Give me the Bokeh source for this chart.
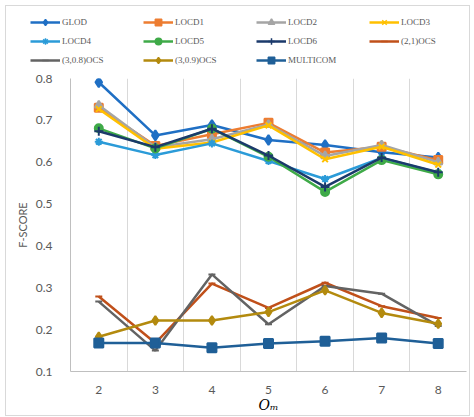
from bokeh.plotting import figure
from bokeh.models import FixedTicker, Range1d, Legend
from bokeh.layouts import column
from bokeh.embed import file_html
from bokeh.resources import INLINE

om = [2, 3, 4, 5, 6, 7, 8]
y_ticks = [0.1, 0.2, 0.3, 0.4, 0.5, 0.6, 0.7, 0.8]

glod = [0.791, 0.664, 0.689, 0.653, 0.641, 0.624, 0.611]
locd1 = [0.730, 0.639, 0.667, 0.694, 0.623, 0.637, 0.605]
locd2 = [0.736, 0.636, 0.655, 0.690, 0.615, 0.641, 0.600]
locd3 = [0.727, 0.632, 0.647, 0.688, 0.607, 0.637, 0.594]
locd4 = [0.649, 0.617, 0.645, 0.603, 0.560, 0.610, 0.575]
locd5 = [0.681, 0.633, 0.680, 0.613, 0.529, 0.605, 0.571]
locd6 = [0.674, 0.636, 0.680, 0.616, 0.541, 0.611, 0.576]
ocs_21 = [0.279, 0.168, 0.310, 0.252, 0.312, 0.256, 0.228]
ocs_308 = [0.267, 0.150, 0.332, 0.213, 0.304, 0.286, 0.209]
ocs_309 = [0.183, 0.222, 0.222, 0.242, 0.294, 0.240, 0.214]
multicom = [0.168, 0.168, 0.157, 0.167, 0.172, 0.180, 0.167]

series = [
    ("GLOD", glod, "#1F6FC4", "diamond", 10),
    ("LOCD1", locd1, "#ED7D31", "square", 8),
    ("LOCD2", locd2, "#A5A5A5", "triangle", 8),
    ("LOCD3", locd3, "#FFC000", "x", 8),
    ("LOCD4", locd4, "#2B9BD8", "asterisk", 8),
    ("LOCD5", locd5, "#3FAA48", "circle", 8),
    ("LOCD6", locd6, "#1B3A6B", "cross", 9),
    ("(2,1)OCS", ocs_21, "#C0501A", "dash", 7),
    ("(3,0.8)OCS", ocs_308, "#636363", "dash", 7),
    ("(3,0.9)OCS", ocs_309, "#B38A0E", "diamond", 9),
    ("MULTICOM", multicom, "#1F5F97", "square", 9),
]

# legend strip (its data lies outside its ranges, only the legend shows)
leg = figure(width=463, height=64, output_backend="svg", toolbar_location=None,
             x_range=Range1d(-10, -9), y_range=Range1d(-10, -9),
             x_axis_location=None, y_axis_location=None,
             min_border_left=0, min_border_right=0,
             min_border_top=0, min_border_bottom=0)
leg.grid.visible = False
leg.outline_line_color = None
leg.frame_align = False

# main chart
p = figure(width=463, height=345, output_backend="svg", toolbar_location=None,
           x_range=Range1d(1.5, 8.5), y_range=Range1d(0.1, 0.8),
           min_border_left=64, min_border_right=3, min_border_top=8, min_border_bottom=42)
p.outline_line_color = None
p.background_fill_color = "white"
p.frame_align = False

items = []
for name, vals, col, mk, sz in series:
    p.line(om, vals, line_color=col, line_width=2.5)
    p.scatter(om, vals, marker=mk, size=sz, fill_color=col, line_color=col, line_width=2)
    ll = leg.line(om, vals, line_color=col, line_width=2.5)
    ls = leg.scatter(om, vals, marker=mk, size=sz, fill_color=col, line_color=col, line_width=1.5)
    items.append((name, [ll, ls]))

legend = Legend(items=items, orientation="horizontal", ncols=4, location=(24, 2),
                glyph_width=30, glyph_height=16, label_width=78, label_standoff=2,
                spacing=3, padding=0, margin=0,
                label_text_font="Liberation Serif", label_text_font_size="9px",
                label_text_color="#595959", border_line_color=None,
                background_fill_alpha=0)
leg.add_layout(legend, "center")

p.xaxis.ticker = FixedTicker(ticks=om)
p.yaxis.ticker = FixedTicker(ticks=y_ticks)
p.xgrid.ticker = FixedTicker(ticks=[2.5, 3.5, 4.5, 5.5, 6.5, 7.5, 8.5])
p.xgrid.grid_line_color = "#d9d9d9"
p.ygrid.grid_line_color = None

for ax in (p.xaxis, p.yaxis):
    ax.axis_line_color = "#bfbfbf"
    ax.major_tick_line_color = None
    ax.minor_tick_line_color = None
    ax.major_label_text_font = "Lato"
    ax.major_label_text_font_size = "12px"
    ax.major_label_text_color = "#595959"

p.xaxis.major_label_standoff = 8
p.xaxis.axis_label = "Oₘ"
p.xaxis.axis_label_text_font = "DejaVu Serif"
p.xaxis.axis_label_text_font_style = "italic"
p.xaxis.axis_label_text_font_size = "14px"
p.xaxis.axis_label_text_color = "#000000"
p.xaxis.axis_label_standoff = 0

p.yaxis.major_label_standoff = 12
p.yaxis.axis_label = "F-SCORE"
p.yaxis.axis_label_text_font = "Lato"
p.yaxis.axis_label_text_font_style = "normal"
p.yaxis.axis_label_text_font_size = "11px"
p.yaxis.axis_label_text_color = "#595959"
p.yaxis.axis_label_standoff = 4

layout = column(leg, p, spacing=0, margin=(5, 0, 0, 5),
                styles={"border": "1px solid #d9d9d9"})

open("out.html", "w").write(file_html(layout, INLINE))
